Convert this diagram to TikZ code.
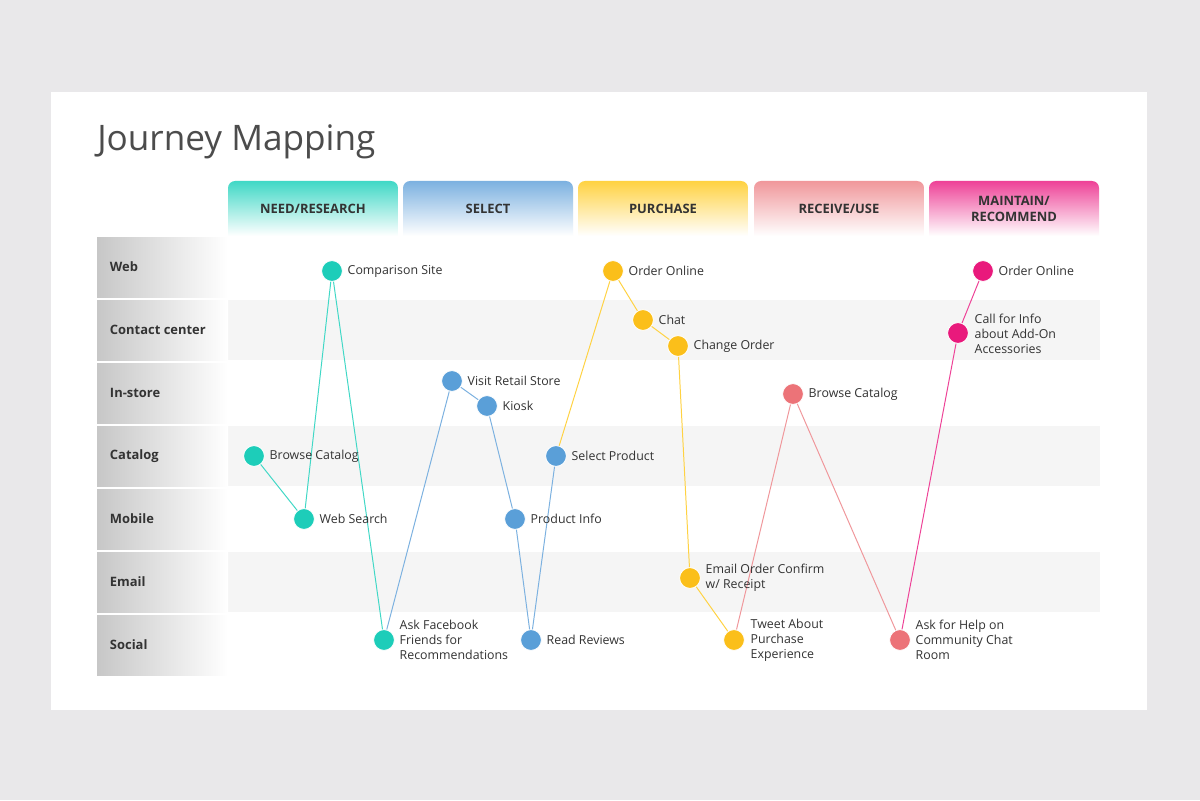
\documentclass[tikz,border=0pt]{standalone}
\usepackage{fontspec}
\setmainfont{Open Sans}
\definecolor{pageBg}{HTML}{E9E8EA}
\definecolor{cTeal}{HTML}{1DCDB9}
\definecolor{cBlue}{HTML}{5A9FD8}
\definecolor{cYellow}{HTML}{FBBF1A}
\definecolor{cPink}{HTML}{EC7378}
\definecolor{cMag}{HTML}{E9197C}
\definecolor{hTeal}{HTML}{40D8C6}
\definecolor{hBlue}{HTML}{7CB1E0}
\definecolor{hYellow}{HTML}{FFD242}
\definecolor{hPink}{HTML}{F0979B}
\definecolor{hMag}{HTML}{EE4297}
\definecolor{txt}{HTML}{333333}
\tikzset{
  dot/.style={circle,fill=#1,draw=white,line width=0.6pt,minimum size=0.52cm,inner sep=0pt},
  lbl/.style={anchor=west,font=\fontsize{8.8}{10.6}\selectfont,text=txt,align=left,inner sep=1pt},
  hdr/.style={font=\bfseries\fontsize{9.2}{11}\selectfont,text=txt,align=center},
  rowlbl/.style={anchor=west,font=\bfseries\fontsize{9.2}{11}\selectfont,text=txt},
  link/.style={#1,line width=0.7pt}
}
\begin{document}
\begin{tikzpicture}[x=0.025cm,y=-0.025cm]
\fill[pageBg] (0,0) rectangle (1200,800);
\useasboundingbox (0,0) rectangle (1200,800);
\fill[white] (51,92) rectangle (1147,710);
\node[anchor=west,text=black!70,font=\fontsize{25}{30}\selectfont,inner sep=0pt] (title) at (97,142) {Journey Mapping};
% header cells
\foreach \xa/\col/\name/\txt in {228/hTeal/need/{NEED/RESEARCH},403/hBlue/select/SELECT,578/hYellow/purchase/PURCHASE,754/hPink/receive/{RECEIVE/USE},929/hMag/maintain/{MAINTAIN/\\RECOMMEND}}{
  \shade[top color=\col,bottom color=white,rounded corners=5pt] (\xa,236) -- (\xa,181) -- (\xa+170,181) -- (\xa+170,236);
  \node[hdr] (\name) at (\xa+85,209) {\txt};
}
% rows
\foreach \ya/\name/\txt [count=\k] in {237/web/Web,300/contact/Contact center,363/instore/In-store,426/catalog/Catalog,489/mobile/Mobile,552/email/Email,615/social/Social}{
  \pgfmathparse{int(mod(\k,2))}
  \ifnum\pgfmathresult=0
    \fill[black!4] (228,\ya) rectangle (1100,\ya+60);
  \fi
  \shade[left color=black!22,right color=white] (97,\ya) rectangle (228,\ya+60);
  \node[rowlbl] (\name) at (105,\ya+30) {\txt};
}
% touch points
\node[dot=cTeal] (p1) at (254,456) {};
\node[dot=cTeal] (p2) at (304,519) {};
\node[dot=cTeal] (p3) at (332,271) {};
\node[dot=cTeal] (p4) at (384,640) {};
\node[dot=cBlue] (p5) at (452,381) {};
\node[dot=cBlue] (p6) at (487,406) {};
\node[dot=cBlue] (p7) at (515,519) {};
\node[dot=cBlue] (p8) at (531,640) {};
\node[dot=cBlue] (p9) at (556,456) {};
\node[dot=cYellow] (p10) at (613,271) {};
\node[dot=cYellow] (p11) at (643,320) {};
\node[dot=cYellow] (p12) at (678,346) {};
\node[dot=cYellow] (p13) at (690,578) {};
\node[dot=cYellow] (p14) at (734,640) {};
\node[dot=cPink] (p15) at (793,394) {};
\node[dot=cPink] (p16) at (900,640) {};
\node[dot=cMag] (p17) at (958,333) {};
\node[dot=cMag] (p18) at (983,271) {};
% connectors
\foreach \a/\b/\col in {p1/p2/hTeal,p2/p3/hTeal,p3/p4/hTeal,p4/p5/hBlue,p5/p6/hBlue,p6/p7/hBlue,p7/p8/hBlue,p8/p9/hBlue,p9/p10/hYellow,p10/p11/hYellow,p11/p12/hYellow,p12/p13/hYellow,p13/p14/hYellow,p14/p15/hPink,p15/p16/hPink,p16/p17/hMag,p17/p18/hMag}{
  \draw[link=\col] (\a) -- (\b);
}
% labels
\node[lbl] (t1) at (268,456) {Browse Catalog};
\node[lbl] (t2) at (318,519) {Web Search};
\node[lbl] (t3) at (346,271) {Comparison Site};
\node[lbl] (t4) at (398,640) {Ask Facebook\\Friends for\\Recommendations};
\node[lbl] (t5) at (466,381) {Visit Retail Store};
\node[lbl] (t6) at (501,406) {Kiosk};
\node[lbl] (t7) at (529,519) {Product Info};
\node[lbl] (t8) at (545,640) {Read Reviews};
\node[lbl] (t9) at (570,456) {Select Product};
\node[lbl] (t10) at (627,271) {Order Online};
\node[lbl] (t11) at (657,320) {Chat};
\node[lbl] (t12) at (692,346) {Change Order};
\node[lbl] (t13) at (704,578) {Email Order Confirm\\w/ Receipt};
\node[lbl] (t14) at (749,640) {Tweet About\\Purchase\\Experience};
\node[lbl] (t15) at (807,394) {Browse Catalog};
\node[lbl] (t16) at (914,640) {Ask for Help on\\Community Chat\\Room};
\node[lbl] (t17) at (973,334) {Call for Info\\about Add-On\\Accessories};
\node[lbl] (t18) at (997,271) {Order Online};
\end{tikzpicture}
\end{document}
